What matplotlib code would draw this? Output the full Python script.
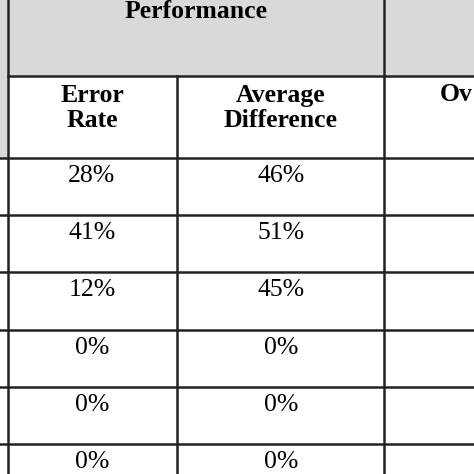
import matplotlib
matplotlib.use("Agg")
import matplotlib.pyplot as plt
from matplotlib.patches import Rectangle

group_header = "Performance"
col_headers = ["Error\nRate", "Average\nDifference", "Ov"]
error_rate = ["28%", "41%", "12%", "0%", "0%", "0%"]
avg_diff = ["46%", "51%", "45%", "0%", "0%", "0%"]

fig = plt.figure(figsize=(4.74, 4.74), dpi=100)
ax = fig.add_axes([0, 0, 1, 1])
ax.set_xlim(0, 474); ax.set_ylim(474, 0); ax.axis("off")
grey = "#d9d9d9"
ax.add_patch(Rectangle((0, 0), 8, 158, color=grey, lw=0))
ax.add_patch(Rectangle((8, 0), 376, 76, color=grey, lw=0))
ax.add_patch(Rectangle((384, 0), 90, 76, color=grey, lw=0))
lc = "#222222"; lw = 1.8
row_lines = [158 + 57.2 * i for i in range(6)]
ax.plot([8, 8], [0, 474], color=lc, lw=lw)
ax.plot([384, 384], [0, 474], color=lc, lw=lw)
ax.plot([177, 177], [76, 474], color=lc, lw=lw)
ax.plot([8, 474], [76, 76], color=lc, lw=lw)
for y in row_lines:
    ax.plot([0, 474], [y, y], color=lc, lw=lw)
font = dict(family="Liberation Serif", fontsize=18.5)
ax.text(196, 11, group_header, ha="center", va="center", fontweight="bold", **font)
ax.text(92, 108, col_headers[0], ha="center", va="center", fontweight="bold", linespacing=1.1, **font)
ax.text(281, 108, col_headers[1], ha="center", va="center", fontweight="bold", linespacing=1.1, **font)
ax.text(440, 94, col_headers[2], ha="left", va="center", fontweight="bold", **font)
for i, y in enumerate(row_lines):
    ax.text(92, y + 18, error_rate[i], ha="center", va="center", **font)
    ax.text(281, y + 18, avg_diff[i], ha="center", va="center", **font)
fig.savefig("out.png", dpi=100)
